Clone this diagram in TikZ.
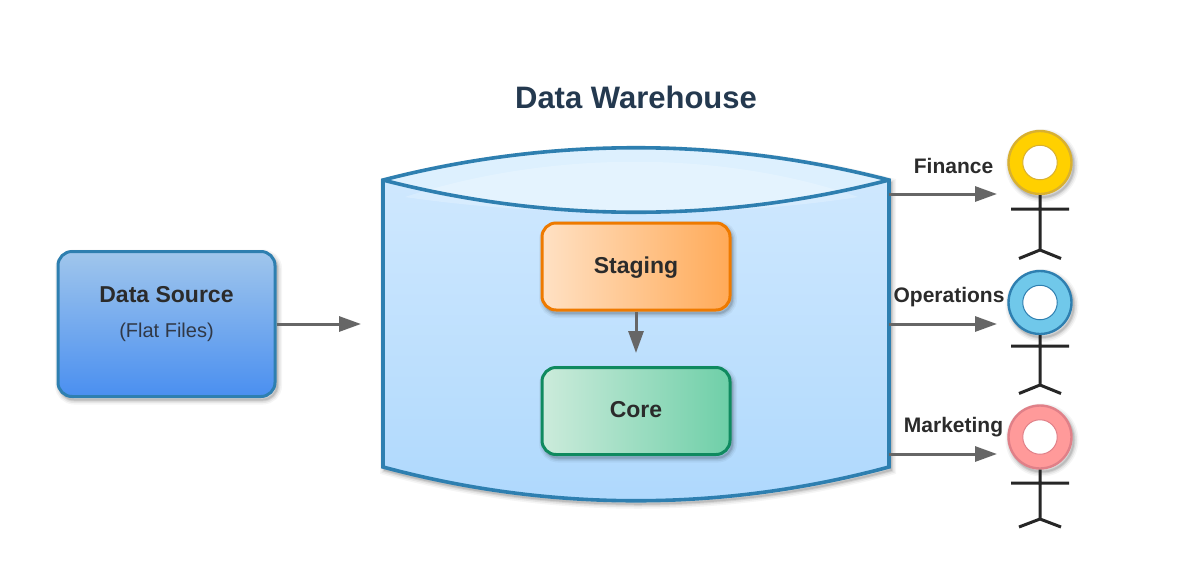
\documentclass[tikz,border=0pt]{standalone}
\usepackage{fontspec}
\setmainfont{Liberation Sans}
\usetikzlibrary{arrows.meta}
\definecolor{cborder}{HTML}{2E7FB0}
\definecolor{txt}{HTML}{2B2B2B}
\definecolor{subtxt}{HTML}{303846}
\definecolor{titlec}{HTML}{24394F}
\definecolor{arrowc}{HTML}{666666}
\definecolor{cyltop}{HTML}{D3EAFE}
\definecolor{cylbot}{HTML}{AED8FD}
\definecolor{cyllid}{HTML}{DDF0FE}
\definecolor{srctop}{HTML}{A0C6EC}
\definecolor{srcbot}{HTML}{4A8FF0}
\definecolor{stgb}{HTML}{EE7A00}
\definecolor{stgl}{HTML}{FFE1C4}
\definecolor{stgr}{HTML}{FFAA58}
\definecolor{corb}{HTML}{0F8A5F}
\definecolor{corl}{HTML}{CCEBDB}
\definecolor{corr}{HTML}{6ECFA8}
\definecolor{yelf}{HTML}{FFD000}
\definecolor{yelb}{HTML}{D8B030}
\definecolor{bluf}{HTML}{70C8EA}
\definecolor{pinf}{HTML}{FF9A9A}
\definecolor{pinb}{HTML}{E08088}
\tikzset{
  softshadow/.style={
    preaction={draw=black,draw opacity=.04,line width=10pt,fill=none,transform canvas={shift={(2pt,-3pt)}}},
    preaction={draw=black,draw opacity=.06,line width=7pt,fill=none,transform canvas={shift={(2pt,-3pt)}}},
    preaction={draw=black,draw opacity=.08,line width=4pt,fill=none,transform canvas={shift={(2pt,-3pt)}}},
    preaction={draw=black,draw opacity=.10,line width=2pt,fill=none,transform canvas={shift={(2pt,-3pt)}}}},
  boxbase/.style={rectangle,rounded corners=14pt,line width=3pt,minimum width=#1,inner sep=0pt,softshadow},
  flow/.style={draw=arrowc,line width=3pt,-{Triangle[length=22pt,width=15pt]}},
  label/.style={text=txt,font=\bfseries\fontsize{21}{24}\selectfont,inner sep=0pt},
  boxlabel/.style={text=txt,font=\bfseries\fontsize{23}{26}\selectfont,inner sep=0pt},
  head/.style={circle,inner sep=0pt,minimum size=63pt,line width=2.4pt,softshadow},
  hole/.style={circle,inner sep=0pt,minimum size=34.5pt,fill=white,line width=1pt},
  limb/.style={draw=black!85,line width=3pt},
  cylline/.style={draw=cborder,line width=3.6pt}
}
\begin{document}
\begin{tikzpicture}[x=1pt,y=-1pt]
\useasboundingbox (0,0) rectangle (1200,563);
\fill[white] (0,0) rectangle (1200,563);

\node[text=titlec,font=\bfseries\fontsize{31}{36}\selectfont,inner sep=0pt] (title) at (636,97) {Data Warehouse};

% warehouse cylinder
\path[softshadow]
  (383,180) .. controls (550,137) and (722,137) .. (889,180) -- (889,467)
  .. controls (722,512) and (550,512) .. (383,467) -- cycle;
\path[top color=cyltop,bottom color=cylbot]
  (383,180) .. controls (550,137) and (722,137) .. (889,180) -- (889,467)
  .. controls (722,512) and (550,512) .. (383,467) -- cycle;
\fill[cyllid]
  (383,180) .. controls (550,137) and (722,137) .. (889,180)
  .. controls (722,223) and (550,223) .. (383,180) -- cycle;
\fill[white,opacity=.22]
  (405,197) .. controls (550,150) and (722,150) .. (858,197)
  .. controls (722,218) and (550,218) .. (405,197) -- cycle;
\draw[cylline]
  (383,180) .. controls (550,137) and (722,137) .. (889,180) -- (889,467)
  .. controls (722,512) and (550,512) .. (383,467) -- cycle;
\draw[cylline]
  (383,180) .. controls (550,223) and (722,223) .. (889,180);

\coordinate (wIn) at (361,324);
\coordinate (wF) at (889,194);
\coordinate (wO) at (889,324);
\coordinate (wM) at (889,454);

% boxes
\node[boxbase=217pt,minimum height=145pt,draw=cborder,top color=srctop,bottom color=srcbot] (source) at (166.5,324) {};
\node[boxlabel] (sourceT) at (166.5,295) {Data Source};
\node[text=subtxt,font=\fontsize{20}{24}\selectfont,inner sep=0pt] (sourceS) at (166.5,332) {(Flat Files)};

\node[boxbase=188pt,minimum height=87pt,draw=stgb,left color=stgl,right color=stgr] (staging) at (636,266.5) {};
\node[boxlabel] (stagingT) at (636,267.5) {Staging};

\node[boxbase=188pt,minimum height=87pt,draw=corb,left color=corl,right color=corr] (core) at (636,411) {};
\node[boxlabel] (coreT) at (636,410) {Core};

% people
\node[head,draw=yelb,fill=yelf] (h1) at (1040,162.5) {};
\node[hole,draw=yelb] (r1) at (1040,162.5) {};
\node[head,draw=cborder,fill=bluf] (h2) at (1040,302.5) {};
\node[hole,draw=cborder] (r2) at (1040,302.5) {};
\node[head,draw=pinb,fill=pinf] (h3) at (1040,437) {};
\node[hole,draw=pinb] (r3) at (1040,437) {};

\coordinate (a1) at (1040,250); \coordinate (a2) at (1040,385); \coordinate (a3) at (1040,519);
\draw[limb] (h1.south) -- (a1) (1011,209) -- (1069,209) (1019,258.5) -- (a1) -- (1061,258.5);
\draw[limb] (h2.south) -- (a2) (1011,346) -- (1069,346) (1019,393.5) -- (a2) -- (1061,393.5);
\draw[limb] (h3.south) -- (a3) (1011,483) -- (1069,483) (1019,527) -- (a3) -- (1061,527);

% connectors
\coordinate (t1) at (997,194); \coordinate (t2) at (997,324); \coordinate (t3) at (997,454);
\coordinate (coreIn) at (636,353);
\draw[flow] (source.east) -- (wIn);
\draw[flow] (staging.south) -- (coreIn);
\draw[flow] (wF) -- (t1);
\draw[flow] (wO) -- (t2);
\draw[flow] (wM) -- (t3);

\node[label] (fin) at (953.5,166) {Finance};
\node[label] (ops) at (949,297) {Operations};
\node[label] (mkt) at (953.5,427) {Marketing};
\end{tikzpicture}
\end{document}
